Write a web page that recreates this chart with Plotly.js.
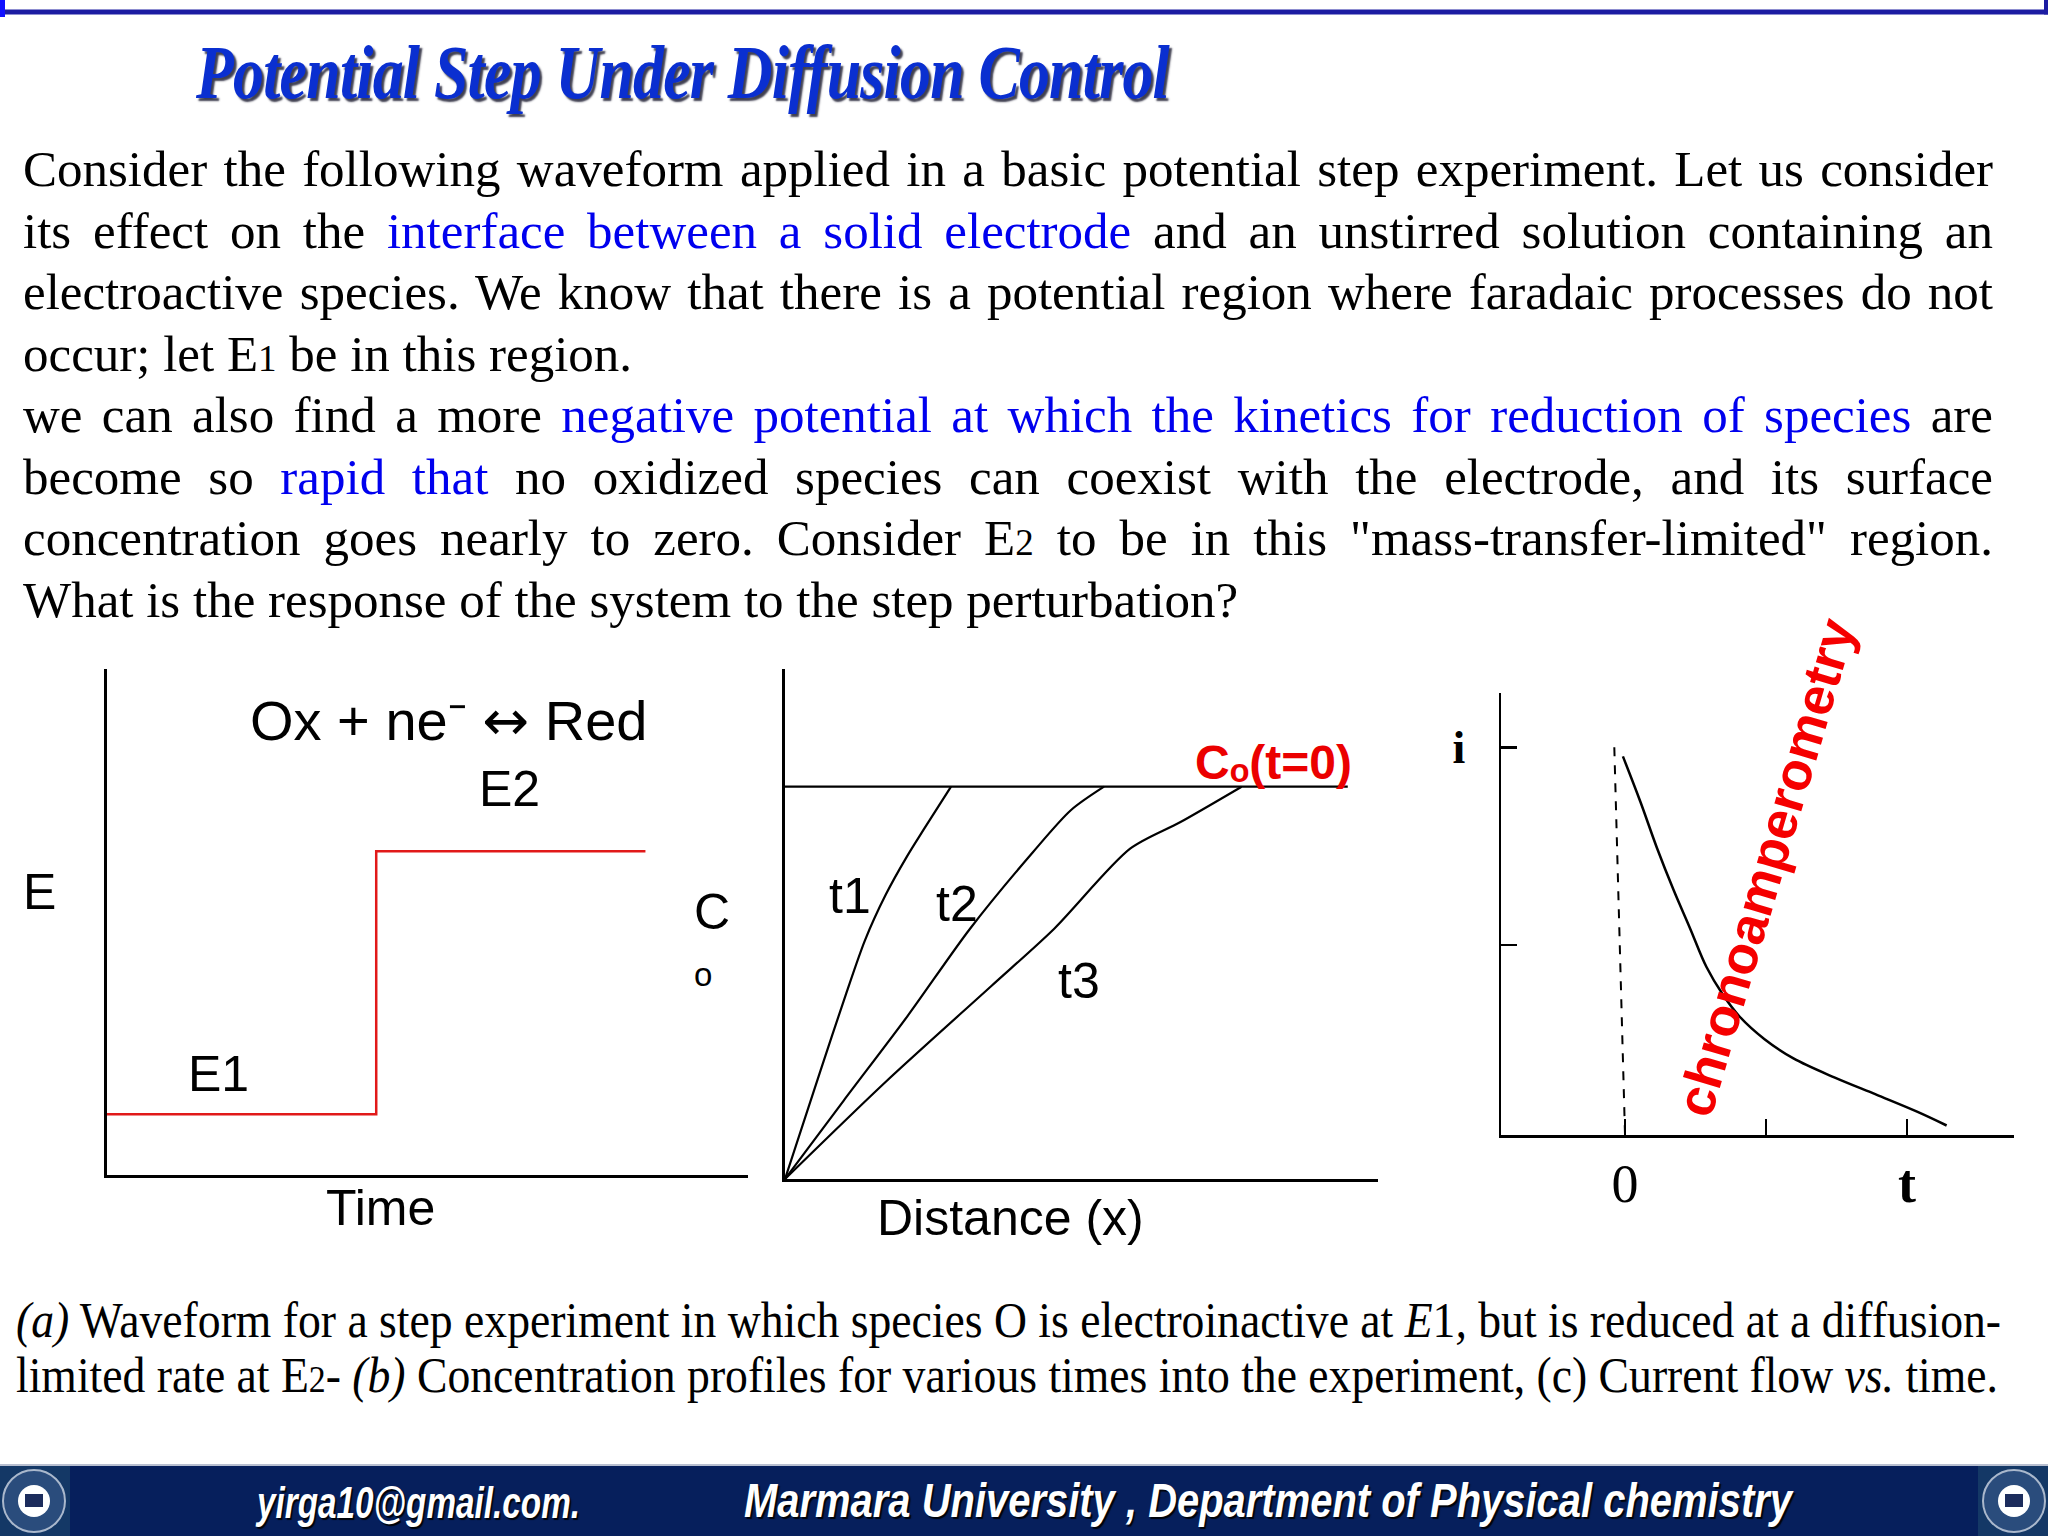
<!DOCTYPE html>
<html>
<head>
<meta charset="utf-8">
<script src="https://cdn.plot.ly/plotly-3.0.1.min.js"></script>
<style>
html,body{margin:0;padding:0;background:#fff;}
#wrap{position:relative;width:2048px;height:1536px;overflow:hidden;background:#fff;}
#plot{position:absolute;left:0;top:0;width:2048px;height:1536px;}
.ov{position:absolute;white-space:nowrap;pointer-events:none;display:inline-block;transform-origin:0 0;}
.para{font-family:"Liberation Serif","Times New Roman",serif;font-size:51px;line-height:61.5px;color:#000;left:23px;}
.cap{font-family:"Liberation Serif","Times New Roman",serif;font-size:50px;line-height:50px;color:#000;left:16px;}
.blue{color:#0000ee;}
.sm{font-size:37px;}
.title{font-family:"Liberation Serif","DejaVu Serif",serif;font-weight:bold;font-style:italic;font-size:76px;line-height:76px;color:#0a2fd0;left:196px;top:34px;text-shadow:3px 3px 2px rgba(30,30,50,0.85);letter-spacing:-1px;}
.foot{font-family:"Liberation Sans",Arial,sans-serif;font-weight:bold;font-style:italic;color:#fff;text-shadow:2px 2px 1px rgba(0,0,0,0.9);}
</style>
</head>
<body>
<div id="wrap">
<div id="plot"></div>

<div class="ov title" data-fit="973">Potential Step Under Diffusion Control</div>

<div class="ov para" style="top:139px" data-just="1970">Consider the following waveform applied in a basic potential step experiment. Let us consider</div>
<div class="ov para" style="top:200.5px" data-just="1970">its effect on the <span class="blue">interface between a solid electrode</span> and an unstirred solution containing an</div>
<div class="ov para" style="top:262px" data-just="1970">electroactive species. We know that there is a potential region where faradaic processes do not</div>
<div class="ov para" style="top:323.5px">occur; let E<span class="sm">1</span> be in this region.</div>
<div class="ov para" style="top:385px" data-just="1970">we can also find a more <span class="blue">negative potential at which the kinetics for reduction of species</span> are</div>
<div class="ov para" style="top:446.5px" data-just="1970">become so <span class="blue">rapid that</span> no oxidized species can coexist with the electrode, and its surface</div>
<div class="ov para" style="top:508px" data-just="1970">concentration goes nearly to zero. Consider E<span class="sm">2</span> to be in this "mass-transfer-limited" region.</div>
<div class="ov para" style="top:569.5px">What is the response of the system to the step perturbation?</div>

<div class="ov cap" style="top:1295px" data-fit="1985"><i>(a)</i> Waveform for a step experiment in which species O is electroinactive at <i>E</i>1<i>,</i> but is reduced at a diffusion-</div>
<div class="ov cap" style="top:1350px" data-fit="1982">limited rate at E<span class="sm">2</span>- <i>(b)</i> Concentration profiles for various times into the experiment, (c) Current flow <i>vs.</i> time.</div>

<div class="ov foot" style="left:257px;top:1481px;font-size:44px;line-height:44px" data-fit="323">yirga10@gmail.com.</div>
<div class="ov foot" style="left:744px;top:1477px;font-size:48px;line-height:48px" data-fit="1048">Marmara University , Department of Physical chemistry</div>
</div>

<script>
// ---------------- DATA ----------------
// (a) potential waveform
const stepTime      = [0, 0.42, 0.42, 0.84];
const stepPotential = [0.12, 0.12, 0.64, 0.64];

// (b) concentration profiles (distance, C/C0)
const bulkDistance = [0, 0.949];
const bulkConc     = [1, 1];
const t1Distance = [0, 0.060, 0.103, 0.135, 0.170, 0.206, 0.234, 0.280];
const t1Conc     = [0, 0.277, 0.472, 0.609, 0.725, 0.823, 0.891, 1.0];
const t2Distance = [0, 0.099, 0.206, 0.312, 0.418, 0.482, 0.538];
const t2Conc     = [0, 0.200, 0.414, 0.638, 0.833, 0.940, 1.0];
const t3Distance = [0, 0.170, 0.348, 0.454, 0.582, 0.667, 0.770];
const t3Conc     = [0, 0.248, 0.492, 0.638, 0.842, 0.910, 1.0];

// (c) chronoamperometry current vs time
const ampTime    = [-0.015, 0.109, 0.226, 0.344, 0.461, 0.579, 0.696, 0.814, 0.990, 1.195, 1.489, 1.783, 2.076, 2.282];
const ampCurrent = [1.953, 1.719, 1.482, 1.265, 1.067, 0.865, 0.722, 0.610, 0.494, 0.395, 0.296, 0.208, 0.119, 0.049];
const stepMarkTime    = [-0.076, 0];
const stepMarkCurrent = [2.0, 0];
const tTickVals  = [0, 2];
const tTickText  = ['0', '<b>t</b>'];
const tMinorVals = [1];
const iTickVals  = [2];
const iTickText  = ['<b>i</b>'];
const iMinorVals = [0.98];

// ---------------- LAYOUT HELPERS ----------------
const W = 2048, H = 1536;
const px = x => x / W;
const py = y => 1 - y / H;
const SANS = 'Liberation Sans, Arial, sans-serif';
const SERIF = 'Liberation Serif, Times New Roman, serif';

const black = '#000';
const traces = [
  {x: stepTime, y: stepPotential, xaxis:'x', yaxis:'y', mode:'lines', line:{color:'rgb(225,25,25)', width:2.5}, hoverinfo:'skip'},
  {x: bulkDistance, y: bulkConc, xaxis:'x2', yaxis:'y2', mode:'lines', line:{color:black, width:2.2}, hoverinfo:'skip'},
  {x: t1Distance, y: t1Conc, xaxis:'x2', yaxis:'y2', mode:'lines', line:{color:black, width:2.2, shape:'spline', smoothing:0.8}, hoverinfo:'skip'},
  {x: t2Distance, y: t2Conc, xaxis:'x2', yaxis:'y2', mode:'lines', line:{color:black, width:2.2, shape:'spline', smoothing:0.8}, hoverinfo:'skip'},
  {x: t3Distance, y: t3Conc, xaxis:'x2', yaxis:'y2', mode:'lines', line:{color:black, width:2.2, shape:'spline', smoothing:0.8}, hoverinfo:'skip'},
  {x: stepMarkTime, y: stepMarkCurrent, xaxis:'x3', yaxis:'y3', mode:'lines', line:{color:black, width:2, dash:'dash'}, hoverinfo:'skip'},
  {x: ampTime, y: ampCurrent, xaxis:'x3', yaxis:'y3', mode:'lines', line:{color:black, width:2.5, shape:'spline', smoothing:1.0}, hoverinfo:'skip'}
];

const axBase = {showgrid:false, zeroline:false, showticklabels:false, ticks:'', showline:true, linecolor:black, linewidth:3, fixedrange:true};

function ann(text, x, y, size, opts) {
  return Object.assign({text:text, x:px(x), y:py(y), xref:'paper', yref:'paper', showarrow:false,
    xanchor:'center', yanchor:'middle', font:{family:SANS, size:size, color:black}}, opts || {});
}

const layout = {
  width: W, height: H, autosize:false,
  margin:{l:0, r:0, t:0, b:0, pad:0},
  paper_bgcolor:'rgba(0,0,0,0)', plot_bgcolor:'rgba(0,0,0,0)',
  showlegend:false,
  xaxis:  Object.assign({}, axBase, {domain:[px(107), px(748)], range:[0,1], anchor:'y'}),
  yaxis:  Object.assign({}, axBase, {domain:[py(1175), py(669)], range:[0,1], anchor:'x'}),
  xaxis2: Object.assign({}, axBase, {domain:[px(785), px(1378)], range:[0,1], anchor:'y2'}),
  yaxis2: Object.assign({}, axBase, {domain:[py(1179), py(669)], range:[0,1.30], anchor:'x2'}),
  xaxis3: Object.assign({}, axBase, {domain:[px(1501), px(2014)], range:[-0.88,2.76], anchor:'y3', linewidth:2.5,
            tickmode:'array', tickvals:tTickVals, ticktext:tTickText, ticks:'inside', ticklen:16, tickwidth:2.5, tickcolor:black,
            minor:{tickmode:'array', tickvals:tMinorVals, ticks:'inside', ticklen:16, tickwidth:2.5, tickcolor:black, showgrid:false},
            showticklabels:true, ticklabelstandoff:0, tickfont:{family:SERIF, size:54, color:black}}),
  yaxis3: Object.assign({}, axBase, {domain:[py(1135), py(693)], range:[0,2.28], anchor:'x3', linewidth:2.5,
            tickmode:'array', tickvals:iTickVals, ticktext:iTickText, ticks:'inside', ticklen:16, tickwidth:2.5, tickcolor:black,
            minor:{tickmode:'array', tickvals:iMinorVals, ticks:'inside', ticklen:16, tickwidth:2.5, tickcolor:black, showgrid:false},
            showticklabels:true, ticklabelstandoff:24, tickfont:{family:SERIF, size:46, color:black}}),
  shapes: [
    // top frame
    {type:'rect', xref:'paper', yref:'paper', x0:0, x1:1, y0:py(14.5), y1:py(9.5), fillcolor:'#1c1ca2', line:{width:0}, layer:'below'},
    {type:'rect', xref:'paper', yref:'paper', x0:0, x1:px(5), y0:py(17), y1:py(0), fillcolor:'#1010ff', line:{width:0}, layer:'below'},
    {type:'rect', xref:'paper', yref:'paper', x0:px(2044), x1:1, y0:py(14.5), y1:py(0), fillcolor:'#1c1ca2', line:{width:0}, layer:'below'},
    // footer band
    {type:'rect', xref:'paper', yref:'paper', x0:0, x1:1, y0:0, y1:py(1466), fillcolor:'#061f5c', line:{width:0}, layer:'below'},
    {type:'rect', xref:'paper', yref:'paper', x0:0, x1:1, y0:py(1466), y1:py(1464), fillcolor:'#b8bfd0', line:{width:0}, layer:'below'},
    {type:'rect', xref:'paper', yref:'paper', x0:0, x1:px(70), y0:0, y1:py(1466), fillcolor:'#143866', line:{width:0}, layer:'below'},
    {type:'rect', xref:'paper', yref:'paper', x0:px(1978), x1:1, y0:0, y1:py(1466), fillcolor:'#143866', line:{width:0}, layer:'below'},
    // logos
    {type:'circle', xref:'paper', yref:'paper', x0:px(3), x1:px(65), y0:py(1532), y1:py(1470), fillcolor:'#2a4c7c', line:{color:'#aab8cc', width:2}, layer:'below'},
    {type:'circle', xref:'paper', yref:'paper', x0:px(18), x1:px(50), y0:py(1517), y1:py(1485), fillcolor:'#ffffff', line:{width:0}, layer:'below'},
    {type:'rect', xref:'paper', yref:'paper', x0:px(25), x1:px(43), y0:py(1507), y1:py(1494), fillcolor:'#1c2c5c', line:{width:0}, layer:'below'},
    {type:'circle', xref:'paper', yref:'paper', x0:px(1983), x1:px(2045), y0:py(1532), y1:py(1470), fillcolor:'#2a4c7c', line:{color:'#aab8cc', width:2}, layer:'below'},
    {type:'circle', xref:'paper', yref:'paper', x0:px(1998), x1:px(2030), y0:py(1517), y1:py(1485), fillcolor:'#ffffff', line:{width:0}, layer:'below'},
    {type:'rect', xref:'paper', yref:'paper', x0:px(2005), x1:px(2023), y0:py(1507), y1:py(1494), fillcolor:'#1c2c5c', line:{width:0}, layer:'below'}
  ],
  annotations: [
    // panel (a)
    ann('Ox + ne\u207B <span style="font-family:DejaVu Sans">\u2194</span> Red', 448, 720, 56),
    ann('E2', 509, 789, 50),
    ann('E1', 218, 1074, 50),
    ann('E', 39, 892, 50),
    ann('Time', 380, 1208, 50),
    // panel (b)
    ann('t1', 850, 896, 50),
    ann('t2', 957, 904, 50),
    ann('t3', 1079, 981, 50),
    ann('<b>C\u2092(t=0)</b>', 1273, 762, 48, {font:{family:SANS, size:48, color:'rgb(235,0,0)'}}),
    ann('Distance (x)', 1010, 1218, 50),
    ann('C', 712, 912, 50),
    ann('o', 703, 974, 33),
    // panel (c)
    ann('<b>chronoamperometry</b>', 1765, 867, 53, {textangle:-73.6, font:{family:SANS, size:53, color:'rgb(245,0,0)'}})
  ]
};

Plotly.newPlot('plot', traces, layout, {displayModeBar:false, staticPlot:true});

// ---------------- text fitting (justify / condense) ----------------
function fitText() {
  document.querySelectorAll('[data-just]').forEach(el => {
    const target = +el.dataset.just;
    el.style.wordSpacing = '0px';
    const w = el.getBoundingClientRect().width;
    const n = (el.textContent.match(/ /g) || []).length;
    if (n > 0) el.style.wordSpacing = ((target - w) / n) + 'px';
  });
  document.querySelectorAll('[data-fit]').forEach(el => {
    const target = +el.dataset.fit;
    el.style.transform = 'none';
    const w = el.getBoundingClientRect().width;
    el.style.transform = 'scaleX(' + (target / w) + ')';
  });
}
fitText();
if (document.fonts && document.fonts.ready) document.fonts.ready.then(fitText);
</script>
</body>
</html>
